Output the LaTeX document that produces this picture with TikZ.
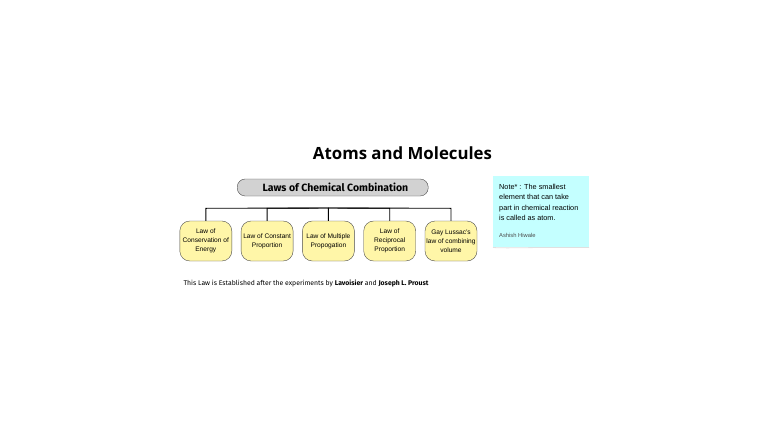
\documentclass[tikz,border=0pt]{standalone}
\usepackage{fontspec}
\setmainfont{Liberation Sans}
\newfontfamily\titlefont{Open Sans}
\newfontfamily\footfont{Fira Sans}
\usetikzlibrary{trees}
\definecolor{lawyellow}{HTML}{FFF6A8}
\definecolor{headgray}{HTML}{D2D2D2}
\definecolor{notecyan}{HTML}{C4FFFF}
\tikzset{
  headbox/.style = {shape=rectangle, rounded corners=8pt, draw=black!70, fill=headgray,
    minimum width=191pt, minimum height=17pt, inner sep=0pt,
    font=\footfont\bfseries\fontsize{10.5}{12}\selectfont},
  lawbox/.style = {shape=rectangle, rounded corners=10pt, draw=black!70, fill=lawyellow,
    minimum width=52pt, minimum height=40pt, inner sep=0pt, align=center, xshift=-4.3pt,
    font=\fontsize{6.6}{9.1}\selectfont}
}
\begin{document}
\begin{tikzpicture}[x=1pt, y=-1pt, sibling distance=61.3pt, level distance=53.5pt,
  edge from parent/.style = {draw=black, line width=0.9pt},
  edge from parent path = {(\tikzchildnode.north) -- ++(0,12.5pt) -- (busmid)}]
  \useasboundingbox (0,0) rectangle (768,431);
  \fill[white] (0,0) rectangle (768,431);
  \coordinate (busmid) at (328,208);
  \node[font=\titlefont\bfseries\fontsize{16.8}{20}\selectfont] (title) at (402.5,153.5) {Atoms and Molecules};
  \node[headbox] (laws) at (332.7,187.5) {\hspace*{5.5pt}Laws of Chemical Combination}
    child { node[lawbox] (conservation) {Law of\\ Conservation of\\ Energy}}
    child { node[lawbox] (constant) {Law of Constant\\ Proportion}}
    child { node[lawbox] (multiple) {Law of Multiple\\ Propogation}}
    child { node[lawbox] (reciprocal) {Law of\\ Reciprocal\\ Proportion}}
    child { node[lawbox] (gaylussac) {Gay Lussac's\\ law of combining\\ volume}};
  \node[anchor=west, font=\footfont\fontsize{6.84}{8}\selectfont, inner sep=0pt] (experiments) at (183.5,283)
    {This Law is Established after the experiments by \textbf{Lavoisier} and \textbf{Joseph L. Proust}};
  \draw[black!12, line width=0.8pt] (493,247.5) .. controls (510,248.5) and (530,247) .. (589,247.5);
  \node[fill=notecyan, minimum width=96pt, minimum height=71pt, inner sep=0pt] (note) at (541,211.5) {};
  \node[anchor=north west, align=left, inner sep=0pt, font=\fontsize{7.3}{10.5}\selectfont] (notetext) at (499,184)
    {Note* : The smallest\\ element that can take\\ part in chemical reaction\\ is called as atom.};
  \node[anchor=west, inner sep=0pt, font=\fontsize{5.8}{7}\selectfont, text=black!70] (author) at (499,235) {Ashish Hiwale};
\end{tikzpicture}
\end{document}
